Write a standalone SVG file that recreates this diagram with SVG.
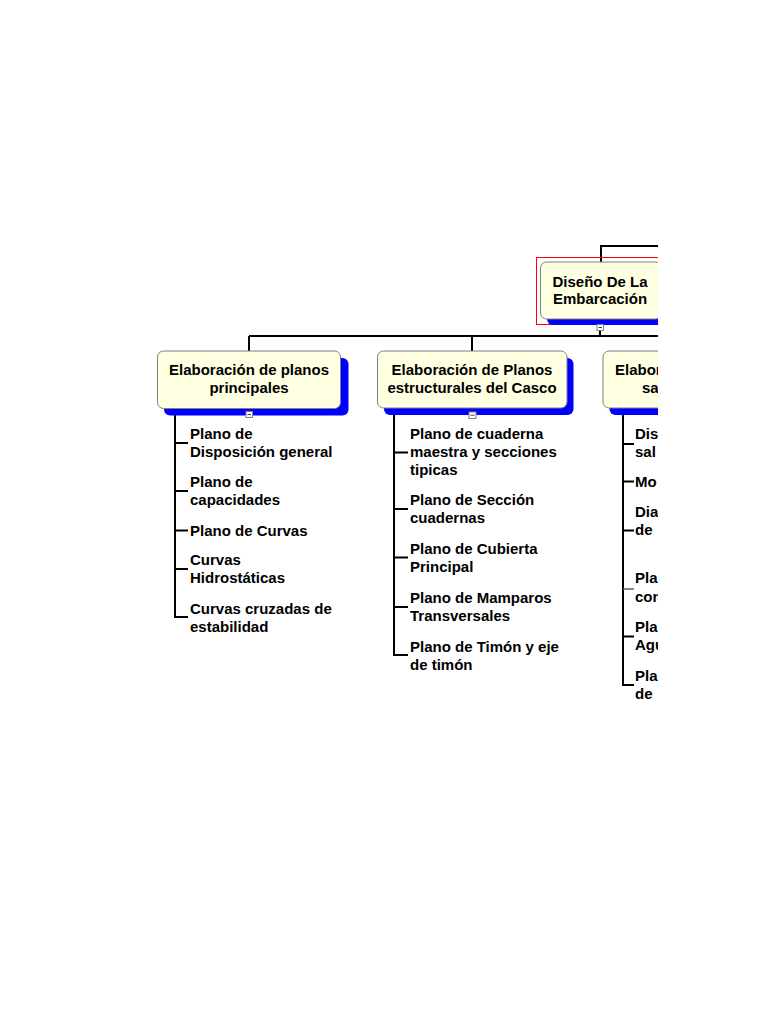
<svg xmlns="http://www.w3.org/2000/svg" width="768" height="1024" viewBox="0 0 768 1024">
  <style>
    .box { fill: #FFFFE1; stroke: #7F7F7F; stroke-width: 1; }
    .shadow { fill: #0000FF; }
    .hdr { font-family: "Liberation Sans", Arial, sans-serif; font-weight: bold; font-size: 15px; fill: #000; text-anchor: middle; }
    .leaf { font-family: "Liberation Sans", Arial, sans-serif; font-weight: bold; font-size: 15px; fill: #000; }
    .conn { stroke: #000; stroke-width: 2; fill: none; }
    .mk { fill: #FFFFFF; stroke: #808080; stroke-width: 1; }
    .mkl { stroke: #404040; stroke-width: 1; }
  </style>
  <defs>
    <clipPath id="view">
      <rect x="0" y="0" width="658" height="1024"/>
    </clipPath>
  </defs>
  <rect x="0" y="0" width="768" height="1024" fill="#FFFFFF"/>
  <g clip-path="url(#view)">
    <g id="connectors">
      <path class="conn" d="M601 263 V246 H670"/>
      <path class="conn" d="M600 330 V336"/>
      <path class="conn" d="M249 336 H670"/>
      <path class="conn" d="M249 336 V351"/>
      <path class="conn" d="M472 336 V351"/>
      <!-- list 1 -->
      <path class="conn" d="M175 408 V618"/>
      <path class="conn" d="M175 443 H188 M175 491 H188 M175 530.5 H188 M175 569 H188 M175 617 H188"/>
      <!-- list 2 -->
      <path class="conn" d="M394 408 V656"/>
      <path class="conn" d="M394 452.5 H408 M394 509 H408 M394 557.5 H408 M394 607 H408 M394 655 H408"/>
      <!-- list 3 -->
      <path class="conn" d="M623 408 V686"/>
      <path class="conn" d="M623 444 H634 M623 481.5 H634 M623 530.5 H634 M623 636.5 H634 M623 685 H634"/>
      <path d="M623 589 H634" stroke="#606060" stroke-width="1.5" fill="none"/>
    </g>

    <g id="root">
      <rect x="536.5" y="257.5" width="140" height="67" fill="none" stroke="#FF0000" stroke-width="1"/>
      <rect class="shadow" x="547" y="268" width="122" height="57" rx="6"/>
      <rect class="box" x="540.5" y="262" width="121" height="57" rx="6"/>
      <text class="hdr" x="600" y="287">Diseño De La</text>
      <text class="hdr" x="600" y="304">Embarcación</text>
      <rect class="mk" x="597" y="324.5" width="6.5" height="6"/>
      <line class="mkl" x1="598.5" y1="327.5" x2="602" y2="327.5"/>
    </g>

    <g id="node1">
      <rect class="shadow" x="164" y="358" width="184.5" height="57.5" rx="6"/>
      <rect class="box" x="157.5" y="351" width="183" height="57.5" rx="6"/>
      <text class="hdr" x="249" y="375">Elaboración de planos</text>
      <text class="hdr" x="249" y="393">principales</text>
      <rect class="mk" x="246" y="411.5" width="6.5" height="6"/>
      <line class="mkl" x1="247.5" y1="414.5" x2="251" y2="414.5"/>
    </g>

    <g id="node2">
      <rect class="shadow" x="384" y="358" width="189.5" height="57" rx="6"/>
      <rect class="box" x="377.5" y="351" width="189.5" height="57" rx="6"/>
      <text class="hdr" x="472" y="374.5">Elaboración de Planos</text>
      <text class="hdr" x="472" y="392.5">estructurales del Casco</text>
      <rect class="mk" x="469" y="412" width="7" height="6.5"/>
      <line class="mkl" x1="470.5" y1="415.2" x2="474.5" y2="415.2"/>
    </g>

    <g id="node3">
      <rect class="shadow" x="609.5" y="358" width="189.5" height="57" rx="6"/>
      <rect class="box" x="603" y="351" width="189.5" height="57" rx="6"/>
      <text class="leaf" x="615" y="374.5">Elabor</text>
      <text class="leaf" x="642" y="393">sa</text>
    </g>

    <g id="list1">
      <text class="leaf" x="190" y="439">Plano de</text>
      <text class="leaf" x="190" y="457">Disposición general</text>
      <text class="leaf" x="190" y="487">Plano de</text>
      <text class="leaf" x="190" y="505">capacidades</text>
      <text class="leaf" x="190" y="535.5">Plano de Curvas</text>
      <text class="leaf" x="190" y="565">Curvas</text>
      <text class="leaf" x="190" y="583">Hidrostáticas</text>
      <text class="leaf" x="190" y="613.5">Curvas cruzadas de</text>
      <text class="leaf" x="190" y="631.5">estabilidad</text>
    </g>

    <g id="list2">
      <text class="leaf" x="410" y="439">Plano de cuaderna</text>
      <text class="leaf" x="410" y="457">maestra y secciones</text>
      <text class="leaf" x="410" y="475">tipicas</text>
      <text class="leaf" x="410" y="505">Plano de Sección</text>
      <text class="leaf" x="410" y="523">cuadernas</text>
      <text class="leaf" x="410" y="554">Plano de Cubierta</text>
      <text class="leaf" x="410" y="572">Principal</text>
      <text class="leaf" x="410" y="603">Plano de Mamparos</text>
      <text class="leaf" x="410" y="621">Transversales</text>
      <text class="leaf" x="410" y="651.5">Plano de Timón y eje</text>
      <text class="leaf" x="410" y="669.5">de timón</text>
    </g>

    <g id="list3">
      <text class="leaf" x="635" y="439">Dis</text>
      <text class="leaf" x="635" y="457">sal</text>
      <text class="leaf" x="635" y="486.5">Mo</text>
      <text class="leaf" x="635" y="516.5">Dia</text>
      <text class="leaf" x="635" y="534.5">de</text>
      <text class="leaf" x="635" y="583">Pla</text>
      <text class="leaf" x="635" y="601.5">con</text>
      <text class="leaf" x="635" y="632">Pla</text>
      <text class="leaf" x="635" y="650">Agu</text>
      <text class="leaf" x="635" y="680.5">Pla</text>
      <text class="leaf" x="635" y="698.5">de</text>
    </g>
  </g>
</svg>
